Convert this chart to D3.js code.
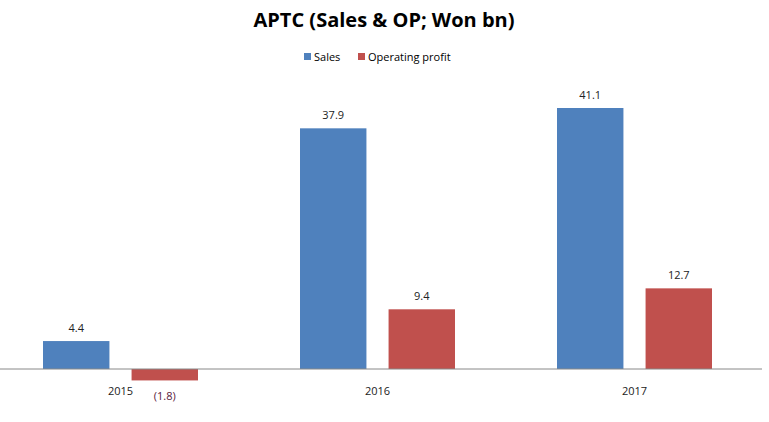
<!DOCTYPE html>
<html><head><meta charset="utf-8">
<script src="https://cdn.jsdelivr.net/npm/d3@7"></script>
<style>body{margin:0;background:#fff}text{font-family:"Open Sans",sans-serif}</style>
</head><body>
<svg id="c" width="769" height="422"></svg>
<script>
var years = ["2015", "2016", "2017"]
var sales = [4.4, 37.9, 41.1]
var op = [-1.8, 9.4, 12.7]
var seriesNames = ["Sales", "Operating profit"]
var colours = ["#4f81bd", "#c0504d"]

var svg = d3.select('#c')
var baseY = 369
var y = d3.scaleLinear().domain([0, 41.1]).range([baseY, 108])
var x = d3.scaleBand().domain(years).range([-8, 763])
var inner = d3.scaleBand().domain([0, 1]).range([51, 206]).paddingInner(0.25)

svg.append('text').attr('x', 384).attr('y', 27).attr('text-anchor', 'middle')
    .style('font-size', '20px').style('font-weight', 'bold').text('APTC (Sales & OP; Won bn)')

// legend
var lg = svg.append('g')
var lx = [304, 358]
seriesNames.forEach(function(s, i) {
    lg.append('rect').attr('x', lx[i]).attr('y', 53).attr('width', 7).attr('height', 7).attr('fill', colours[i])
    lg.append('text').attr('x', lx[i] + 10).attr('y', 61).style('font-size', '11px').text(s)
})

var rows = []
years.forEach(function(yr, i) {
    rows.push({yr: yr, k: 0, v: sales[i]})
    rows.push({yr: yr, k: 1, v: op[i]})
})

svg.selectAll('rect.bar').data(rows).join('rect').attr('class', 'bar')
    .attr('x', function(d) { return x(d.yr) + inner(d.k) })
    .attr('width', inner.bandwidth())
    .attr('y', function(d) { return Math.min(y(d.v), y(0)) })
    .attr('height', function(d) { return Math.abs(y(d.v) - y(0)) })
    .attr('fill', function(d) { return colours[d.k] })

svg.selectAll('text.val').data(rows).join('text').attr('class', 'val')
    .attr('x', function(d) { return x(d.yr) + inner(d.k) + inner.bandwidth() / 2 })
    .attr('y', function(d) { return d.v >= 0 ? y(d.v) - 9 : y(d.v) + 20 })
    .attr('text-anchor', 'middle').style('font-size', '11px')
    .attr('fill', function(d) { return d.v < 0 ? '#5a1a3a' : '#222' })
    .text(function(d) { return d.v < 0 ? '(' + Math.abs(d.v).toFixed(1) + ')' : d.v.toFixed(1) })

svg.append('line').attr('x1', 0).attr('x2', 762).attr('y1', baseY).attr('y2', baseY)
    .attr('stroke', '#888').attr('stroke-width', 1)

svg.selectAll('text.yr').data(years).join('text').attr('class', 'yr')
    .attr('x', function(d) { return x(d) + x.bandwidth() / 2 })
    .attr('y', 395).attr('text-anchor', 'middle').style('font-size', '11px').attr('fill', '#222')
    .text(function(d) { return d })
</script>
</body></html>
